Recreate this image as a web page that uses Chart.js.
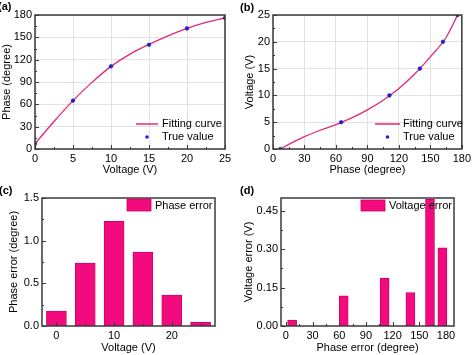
<!DOCTYPE html>
<html><head><meta charset="utf-8">
<script src="https://cdn.jsdelivr.net/npm/chart.js@4/dist/chart.umd.min.js"></script>
<style>
html,body{margin:0;padding:0;background:#fff}
body{width:474px;height:355px;overflow:hidden;position:relative;font-family:"Liberation Sans",Arial,sans-serif}
canvas{position:absolute}
.lab{position:absolute;font-weight:bold;font-size:11px;line-height:13px;color:#000}
</style></head><body>
<canvas id="ca" width="237" height="178" style="left:0;top:0"></canvas>
<canvas id="cb" width="237" height="178" style="left:237px;top:0"></canvas>
<canvas id="cc" width="237" height="177" style="left:0;top:178px"></canvas>
<canvas id="cd" width="237" height="177" style="left:237px;top:178px"></canvas>
<div class="lab" style="left:-2px;top:0px">(a)</div>
<div class="lab" style="left:240px;top:1px">(b)</div>
<div class="lab" style="left:-1px;top:184px">(c)</div>
<div class="lab" style="left:240px;top:184px">(d)</div>
<script>
// ---------- data ----------
const trueVoltage = [0, 5, 10, 15, 20, 25];
const truePhase   = [7, 65, 111, 140, 162, 176];

const fitVoltageA = [0, 2.5, 5, 7.5, 10, 12.5, 15, 17.5, 20, 22.5, 25];
const fitPhaseA   = [7, 37, 65, 89.5, 111, 127.5, 140.5, 152, 162, 170, 176];

const fitPhaseB   = [7, 15, 30, 45, 60, 75, 90, 105, 120, 135, 150, 165, 176];
const fitVoltageB = [0, 0.85, 2.3, 3.5, 4.55, 5.8, 7.3, 9.1, 11.3, 14.0, 17.2, 20.8, 25];

const phaseError   = [0.176, 0.738, 1.227, 0.867, 0.363, 0.043];
const voltageError = [0.023, 0.118, 0.187, 0.131, 0.495, 0.305];

const ticksAX = [0, 5, 10, 15, 20, 25];
const ticksAY = [0, 30, 60, 90, 120, 150, 180];
const ticksBX = [0, 30, 60, 90, 120, 150, 180];
const ticksBY = [0, 5, 10, 15, 20, 25];
const ticksCX = [0, 10, 20];
const ticksCY = [0, 0.5, 1.0, 1.5];
const ticksDX = [0, 30, 60, 90, 120, 150, 180];
const ticksDY = [0, 0.15, 0.30, 0.45];

const minorAX = [2.5, 7.5, 12.5, 17.5, 22.5];
const minorAY = [15, 45, 75, 105, 135, 165];
const minorBX = [15, 45, 75, 105, 135, 165];
const minorBY = [2.5, 7.5, 12.5, 17.5, 22.5];
const minorCX = [5, 15, 25];
const minorCY = [0.25, 0.75, 1.25];
const minorDX = [15, 45, 75, 105, 135, 165];
const minorDY = [0.075, 0.225, 0.375];

// ---------- style ----------
const FONT = "'Liberation Sans', Arial, sans-serif";
Chart.defaults.font.family = FONT;
Chart.defaults.font.size = 11;
Chart.defaults.color = '#000';
Chart.defaults.animation = false;

const LINE = '#E4287C';
const DOT = '#2222DD';
const BAR = '#F20A7E';
const BARB = '#C2005E';
const FRAME = '#3a3a3a';

const pairs = (xs, ys) => xs.map((x, i) => ({x, y: ys[i]}));

const deco = {
  id: 'deco',
  afterDatasetsDraw(chart, args, o) {
    const ctx = chart.ctx, a = chart.chartArea;
    const sx = chart.scales.x, sy = chart.scales.y;
    ctx.save();
    ctx.strokeStyle = FRAME;
    ctx.lineWidth = 1;
    const tick = (vals, len, isX) => {
      vals.forEach(v => {
        ctx.beginPath();
        if (isX) { const p = Math.round(sx.getPixelForValue(v)) + 0.5; ctx.moveTo(p, a.bottom); ctx.lineTo(p, a.bottom - len); }
        else { const p = Math.round(sy.getPixelForValue(v)) + 0.5; ctx.moveTo(a.left, p); ctx.lineTo(a.left + len, p); }
        ctx.stroke();
      });
    };
    tick(o.majorX, 4, true); tick(o.minorX, 2, true);
    tick(o.majorY, 4, false); tick(o.minorY, 2, false);
    ctx.lineWidth = 1.5;
    ctx.strokeRect(a.left, a.top, a.right - a.left, a.bottom - a.top);
    // legend
    const L = o.legend;
    ctx.font = '11px ' + FONT;
    ctx.fillStyle = '#000';
    ctx.textBaseline = 'middle';
    ctx.textAlign = 'left';
    if (L.type === 'line') {
      ctx.strokeStyle = LINE; ctx.lineWidth = 1.5;
      ctx.beginPath(); ctx.moveTo(L.x0, L.y1); ctx.lineTo(L.x1, L.y1); ctx.stroke();
      ctx.fillText(L.t1, L.tx, L.y1);
      ctx.fillStyle = DOT;
      ctx.beginPath(); ctx.arc((L.x0 + L.x1) / 2, L.y2, 1.8, 0, Math.PI * 2); ctx.fill();
      ctx.fillStyle = '#000';
      ctx.fillText(L.t2, L.tx, L.y2);
    } else {
      ctx.fillStyle = BAR;
      ctx.fillRect(L.x0, L.y0, L.w, L.h);
      ctx.strokeStyle = BARB; ctx.lineWidth = 0.8;
      ctx.strokeRect(L.x0, L.y0, L.w, L.h);
      ctx.fillStyle = '#000';
      ctx.fillText(L.t1, L.tx, L.y0 + L.h / 2 + 0.5);
    }
    ctx.restore();
  }
};

function axis(opts) {
  return {
    type: 'linear', min: opts.min, max: opts.max, offset: false,
    afterBuildTicks: s => { s.ticks = opts.ticks.map(v => ({value: v})); },
    afterFit: s => { if (opts.w !== undefined) s.width = opts.w; if (opts.h !== undefined) s.height = opts.h; },
    grid: { display: !!opts.grid, color: '#e2e2e2', lineWidth: 1, drawTicks: false },
    border: { display: false },
    ticks: { padding: opts.pad, font: {size: 11}, color: '#000', maxRotation: 0, autoSkip: false,
             callback: v => opts.fmt ? opts.fmt(v) : String(v) },
    title: { display: true, text: opts.title, font: {size: 11}, color: '#000', padding: opts.tpad }
  };
}

function lineChart(id, fit, pts, sx, sy, pad, legend, minX, minY, majX, majY) {
  return new Chart(document.getElementById(id), {
    type: 'line',
    data: { datasets: [
      { data: fit, borderColor: LINE, borderWidth: 1.3, pointRadius: 0, cubicInterpolationMode: 'monotone', fill: false, order: 2 },
      { data: pts, showLine: false, pointRadius: 1.8, pointBackgroundColor: DOT, pointBorderColor: '#1010A0', pointBorderWidth: 0.6, order: 1 }
    ]},
    options: {
      responsive: false, devicePixelRatio: 1,
      layout: { padding: pad },
      plugins: { legend: {display: false}, tooltip: {enabled: false},
        deco: { majorX: majX, majorY: majY, minorX: minX, minorY: minY, legend } },
      scales: { x: sx, y: sy }
    },
    plugins: [deco]
  });
}

function barChart(id, xs, ys, thick, sx, sy, pad, legend, minX, minY, majX, majY) {
  return new Chart(document.getElementById(id), {
    type: 'bar',
    data: { datasets: [
      { data: pairs(xs, ys), backgroundColor: BAR, borderColor: BARB, borderWidth: 0.8, barThickness: thick }
    ]},
    options: {
      responsive: false, devicePixelRatio: 1,
      layout: { padding: pad },
      plugins: { legend: {display: false}, tooltip: {enabled: false},
        deco: { majorX: majX, majorY: majY, minorX: minX, minorY: minY, legend } },
      scales: { x: sx, y: sy }
    },
    plugins: [deco]
  });
}

// (a)
lineChart('ca', pairs(fitVoltageA, fitPhaseA), pairs(trueVoltage, truePhase),
  axis({min: 0, max: 25, ticks: ticksAX, h: 29, grid: true, pad: 3, title: 'Voltage (V)', tpad: {top: 0, bottom: 1}}),
  axis({min: 0, max: 180, ticks: ticksAY, w: 35, grid: true, pad: 3, title: 'Phase (degree)', tpad: {top: 0, bottom: 0}}),
  {top: 15, right: 12, left: 0, bottom: 0},
  {type: 'line', x0: 136, x1: 158, tx: 162, y1: 124, y2: 137, t1: 'Fitting curve', t2: 'True value'},
  minorAX, minorAY, ticksAX, ticksAY);

// (b)
lineChart('cb', pairs(fitPhaseB, fitVoltageB), pairs(truePhase, trueVoltage),
  axis({min: 0, max: 180, ticks: ticksBX, h: 29, grid: true, pad: 3, title: 'Phase (degree)', tpad: {top: 0, bottom: 1}}),
  axis({min: 0, max: 25, ticks: ticksBY, w: 36, grid: true, pad: 3, title: 'Voltage (V)', tpad: {top: 6, bottom: 0}}),
  {top: 15, right: 10, left: 0, bottom: 0},
  {type: 'line', x0: 138, x1: 163, tx: 166, y1: 124, y2: 137, t1: 'Fitting curve', t2: 'True value'},
  minorBX, minorBY, ticksBX, ticksBY);

// (c)
barChart('cc', trueVoltage, phaseError, 20,
  axis({min: -2.5, max: 27.5, ticks: ticksCX, h: 29, grid: false, pad: 3, title: 'Voltage (V)', tpad: {top: 0, bottom: 0}}),
  axis({min: 0, max: 1.5, ticks: ticksCY, w: 42, grid: false, pad: 3, title: 'Phase error (degree)', tpad: {top: 7, bottom: 0}, fmt: v => v.toFixed(1)}),
  {top: 20, right: 22, left: 0, bottom: 0},
  {type: 'box', x0: 127, y0: 21, w: 24, h: 12, tx: 155, t1: 'Phase error'},
  minorCX, minorCY, ticksCX, ticksCY);

// (d)
barChart('cd', truePhase, voltageError, 9,
  axis({min: -5.5, max: 189, ticks: ticksDX, h: 29, grid: false, pad: 3, title: 'Phase error (degree)', tpad: {top: 0, bottom: 0}}),
  axis({min: 0, max: 0.5, ticks: ticksDY, w: 44, grid: false, pad: 3, title: 'Voltage error (V)', tpad: {top: 5, bottom: 0}, fmt: v => v.toFixed(2)}),
  {top: 20, right: 20, left: 0, bottom: 0},
  {type: 'box', x0: 124, y0: 22, w: 24, h: 11, tx: 152, t1: 'Voltage error'},
  minorDX, minorDY, ticksDX, ticksDY);
</script>
</body></html>
